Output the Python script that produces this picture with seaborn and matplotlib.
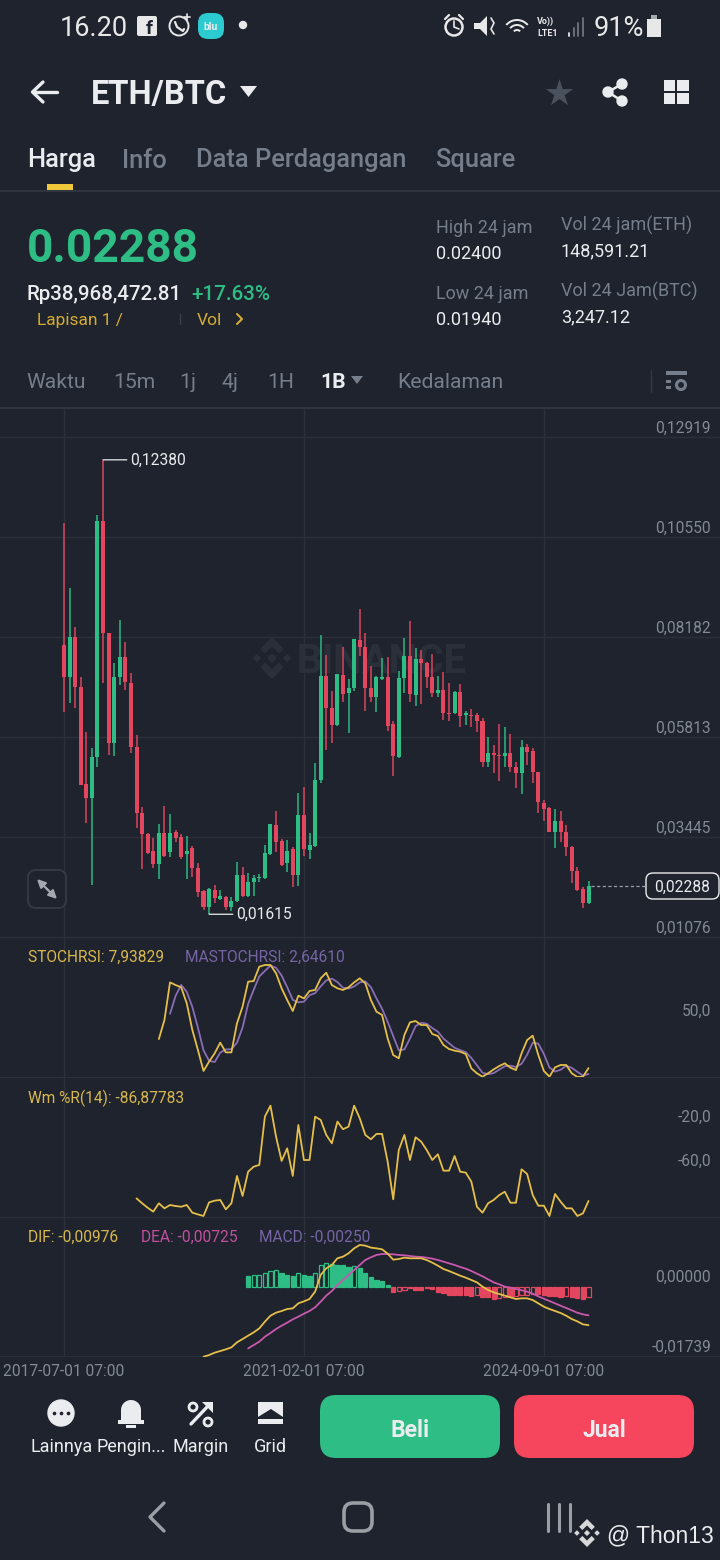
import numpy as np
import pandas as pd
import matplotlib.pyplot as plt
import seaborn as sns
from matplotlib.patches import FancyBboxPatch, Circle, Rectangle, Polygon, Wedge
from matplotlib.transforms import blended_transform_factory

# Monthly ETH/BTC candles, 2017-07 to 2025-05
opens = [.07994, .07236, .08183, .06999, .04701, .04369, .05340, .10932, .08278, .05672,
         .07236, .07709, .07094, .05577, .04014, .03516, .03113, .02805, .03540, .03090,
         .03564, .03445, .03042, .03184, .02711, .02166, .01787, .02190, .01977, .02024,
         .01787, .01929, .02545, .02048, .02379, .02474, .02474, .03042, .03729, .03350,
         .02829, .03161, .02545, .03966, .03137, .03232, .04796, .07260, .06502, .06098,
         .07284, .06857, .06975, .08112, .07946, .06975, .06762, .07188, .07236, .06122,
         .05340, .07212, .07733, .06809, .07662, .07567, .07236, .06857, .06928, .06383,
         .06383, .06880, .06335, .06335, .06335, .06193, .05222, .05435, .05388, .05364,
         .05435, .05103, .04961, .05577, .05482, .04985, .04251, .04132, .03564, .03824,
         .03564, .03208, .02640, .02214, .01882]
highs = [.10884, .09344, .08420, .07236, .05932, .05553, .11074, .12380, .08278, .07567,
         .08586, .08065, .07331, .05861, .04156, .03540, .03422, .03753, .04180, .03990,
         .03611, .03516, .03469, .03232, .02829, .02190, .02237, .02308, .02190, .02048,
         .02024, .02853, .02734, .02592, .02545, .02568, .03255, .03753, .04061, .03398,
         .03374, .03208, .04488, .04630, .03540, .05198, .08230, .07757, .06904, .07307,
         .07946, .07188, .08136, .08847, .08278, .07496, .07260, .07686, .07709, .06193,
         .07378, .08159, .08562, .07922, .07875, .07591, .07780, .07260, .07354, .07094,
         .06904, .07070, .06430, .06478, .06383, .06264, .05814, .05625, .06122, .06051,
         .05885, .05222, .05743, .05648, .05553, .04985, .04322, .04156, .04108, .04061,
         .03729, .03232, .02734, .02261, .02400]
lows = [.06407, .06620, .06502, .04677, .03777, .02308, .05103, .07094, .05388, .05364,
        .07046, .06928, .05435, .03658, .02687, .03042, .02711, .02450, .02971, .02971,
        .03327, .02924, .02450, .02497, .02024, .01716, .01615, .01882, .01953, .01716,
        .01692, .01905, .02024, .02024, .02048, .02379, .02450, .03019, .03090, .02758,
        .02616, .02261, .02284, .02995, .02924, .03208, .04725, .05506, .05672, .06075,
        .06644, .05908, .06904, .07733, .06430, .06644, .06407, .07165, .05956, .04890,
        .05317, .06857, .06644, .06549, .06596, .06975, .06762, .06762, .06217, .06193,
        .06359, .06051, .06098, .06051, .05932, .05103, .05103, .04961, .04772, .05103,
        .04985, .04606, .04464, .05151, .04725, .04014, .03824, .03564, .03184, .03327,
        .02995, .02355, .02166, .01763, .01858]
closes = [.07236, .08183, .06999, .04677, .04369, .05340, .10932, .08278, .05672, .07236,
          .07709, .07117, .05577, .04014, .03516, .03066, .02805, .03540, .02995, .03540,
          .03421, .02971, .03113, .02711, .02143, .01787, .02214, .02000, .02048, .01787,
          .01929, .02545, .02048, .02379, .02474, .02497, .03066, .03753, .03327, .02782,
          .03113, .02545, .03966, .03161, .03255, .04796, .07260, .06502, .06098, .07307,
          .06833, .06975, .08136, .07946, .06975, .06762, .07236, .07236, .06075, .05364,
          .07212, .07733, .06833, .07662, .07567, .07236, .06857, .06928, .06383, .06359,
          .06880, .06312, .06383, .06312, .06193, .05222, .05435, .05388, .05364, .05435,
          .05103, .04961, .05577, .05458, .04985, .04275, .04108, .03564, .03824, .03564,
          .03208, .02640, .02190, .01882, .02288]

# indicator series all end at the last candle
stoch_k = [33.9, 50.9, 84.5, 82.1, 80.1, 65.8, 42.0, 24.1, 5.4, 13.7, 21.1, 30.7, 22.0, 22.0, 47.9,
           62.8, 85.1, 85.7, 98.5, 100, 100, 92.6, 79.2, 68.7, 58.9, 72.6, 70.2, 76.8, 77.7, 88.1,
           93.1, 82.1, 79.2, 77.7, 80.1, 84.5, 88.1, 83.6, 68.7, 58.3, 55.4, 34.5, 19.6, 16.7, 37.5,
           48.8, 50.0, 46.4, 46.4, 38.4, 36.6, 28.6, 25.0, 23.5, 22.6, 20.5, 7.7, 3.3, 0.3, 3.3,
           6.8, 9.8, 12.2, 8.3, 6.2, 21.1, 33.0, 36.9, 19.6, 5.4, 0.3, 8.6, 10.7, 10.7, 3.3,
           0.0, 0.3, 7.94]
stoch_ma = [56.4, 72.5, 82.2, 76.0, 62.6, 44.0, 23.9, 14.4, 13.4, 21.8, 24.6, 24.9, 30.6, 44.2, 65.3,
            77.9, 89.8, 94.7, 99.5, 97.5, 90.6, 80.2, 68.9, 66.7, 67.3, 73.0, 74.9, 80.9, 86.3, 87.8,
            84.8, 79.7, 79.0, 80.8, 84.5, 85.4, 80.2, 70.2, 60.9, 49.4, 36.5, 23.9, 24.6, 34.3, 45.4,
            48.4, 47.6, 43.7, 40.5, 34.3, 30.2, 26.1, 24.0, 22.2, 17.0, 10.5, 3.8, 2.5, 3.5, 6.6,
            9.6, 10.1, 8.9, 11.8, 20.0, 30.6, 29.8, 20.6, 8.4, 4.8, 6.5, 10.0, 8.2, 4.6, 1.2, 2.65]
williams = [-84.6, -88.9, -92.8, -96.2, -88.9, -93.3, -90.4, -91.3, -91.9, -90.4, -97.1, -98.6, -100,
            -88.1, -86.6, -86.0, -94.2, -88.9, -65.0, -82.5, -61.3, -56.9, -55.4, -13.2, -3.6, -30.7,
            -51.9, -40.9, -65.0, -20.5, -51.1, -51.1, -13.2, -16.1, -29.2, -36.5, -17.5, -24.2, -21.9,
            -3.6, -14.6, -29.2, -33.0, -28.3, -28.3, -52.5, -85.4, -42.3, -29.2, -51.1, -31.2, -35.0,
            -42.3, -51.1, -46.1, -60.4, -60.4, -47.6, -61.3, -62.1, -70.0, -91.9, -97.1, -88.9, -86.0,
            -81.7, -78.8, -88.4, -88.4, -59.2, -63.3, -81.7, -91.0, -91.0, -100, -80.8, -87.5, -93.3,
            -93.3, -100, -97.7, -86.88]
dif = [-.01783, -.01740, -.01680, -.01638, -.01595, -.01544, -.01416, -.01331, -.01245, -.01160,
       -.01058, -.00887, -.00734, -.00657, -.00614, -.00563, -.00546, -.00418, -.00367, -.00307,
       -.00119, .00307, .00478, .00563, .00734, .00776, .00862, .00989, .01075, .01058,
       .01007, .00989, .00964, .00853, .00699, .00716, .00751, .00734, .00734, .00734,
       .00691, .00623, .00546, .00461, .00409, .00350, .00290, .00239, .00179, .00119,
       .00009, -.00077, -.00136, -.00179, -.00222, -.00264, -.00307, -.00290, -.00290, -.00333,
       -.00418, -.00503, -.00563, -.00614, -.00665, -.00734, -.00819, -.00880, -.00955, -.00976]
dea = [-.01570, -.01484, -.01399, -.01271, -.01177, -.01075, -.00990, -.00913, -.00827, -.00759,
       -.00682, -.00614, -.00520, -.00375, -.00222, -.00102, .00051, .00179, .00307, .00435,
       .00563, .00691, .00759, .00819, .00844, .00844, .00836, .00819, .00810, .00793,
       .00776, .00768, .00751, .00725, .00691, .00648, .00606, .00563, .00512, .00469,
       .00409, .00341, .00273, .00196, .00119, .00068, .00009, -.00017, -.00051, -.00085,
       -.00119, -.00171, -.00239, -.00299, -.00358, -.00418, -.00478, -.00537, -.00597, -.00657,
       -.00700, -.00725]
macd_hist = [.00273, .00299, .00316, .00358, .00418, .00435, .00358, .00316, .00273, .00358,
             .00299, .00273, .00358, .00572, .00614, .00589, .00572, .00554, .00503, .00529,
             .00486, .00358, .00247, .00188, .00145, .00043, -.00128, -.00111, -.00077, -.00034,
             -.00077, -.00077, -.00034, -.00051, -.00119, -.00162, -.00196, -.00196, -.00196, -.00213,
             -.00222, -.00213, -.00264, -.00264, -.00299, -.00281, -.00264, -.00264, -.00239, -.00213,
             -.00196, -.00179, -.00179, -.00213, -.00239, -.00239, -.00256, -.00239, -.00264, -.00281,
             -.00299, -.00250]

# axis labels
price_ticks = [0.12919, 0.10550, 0.08182, 0.05813, 0.03445, 0.01076]
price_labels = ['0,12919', '0,10550', '0,08182', '0,05813', '0,03445', '0,01076']
date_idx = [0, 43, 86]
date_labels = ['2017-07-01 07:00', '2021-02-01 07:00', '2024-09-01 07:00']

BG = '#1e232d'
GRID = '#2b3039'
GREEN = '#2ebd85'
RED = '#e2475f'
YELLOW = '#e6bf4a'
PURPLE = '#8a6db4'
PINK = '#c958ae'
GRAY = '#767e8b'
LABEL = '#838a95'
WHITE = '#eaecef'

sns.set_theme(style='dark', rc={'figure.facecolor': BG, 'axes.facecolor': 'none'})
plt.rcParams['font.family'] = ['Roboto', 'DejaVu Sans']

fig = plt.figure(figsize=(7.2, 15.6), dpi=100)

ui = fig.add_axes([0, 0, 1, 1], zorder=5)
ui.set_xlim(0, 720)
ui.set_ylim(1560, 0)
ui.axis('off')


def panel(top, bottom, ylim):
    ax = fig.add_axes([0, 1 - bottom / 1560, 1, (bottom - top) / 1560])
    # one candle is 5.58 px, first candle sits at px 64
    ax.set_xlim(-64 / 5.58, (720 - 64) / 5.58)
    ax.set_ylim(*ylim)
    ax.set_xticks([])
    ax.set_yticks([])
    ax.grid(False)
    for s in ax.spines.values():
        s.set_visible(False)
    for i in date_idx:
        ax.axvline(i, color=GRID, lw=1, zorder=0)
    return ax


def series_x(values):
    return np.arange(95 - len(values), 95)


def axis_label(ax, y, txt):
    ax.text(1 - 9 / 720, y, txt, transform=ax.get_yaxis_transform(), ha='right', va='bottom',
            fontsize=11.2, color=LABEL)


# ----------------------------------------------------------
# Candles
# ----------------------------------------------------------
price_per_px = 0.0002369
ax_main = panel(408, 937, (0.01076, 0.01076 + 529 * price_per_px))
df = pd.DataFrame({'open': opens, 'high': highs, 'low': lows, 'close': closes})
df['x'] = df.index
df['color'] = np.where(df['close'] >= df['open'], GREEN, RED)

for t, lab in zip(price_ticks, price_labels):
    ax_main.axhline(t, color=GRID, lw=1, zorder=0)
    axis_label(ax_main, t + 0.0002, lab)

ax_main.text(382, 0.0769, 'BINANCE', color='#2a2f39', fontsize=29, fontweight='bold', ha='center',
             va='center_baseline', transform=blended_transform_factory(ui.transData, ax_main.transData),
             zorder=1)

ax_main.vlines(df['x'], df['low'], df['high'], colors=df['color'], lw=1.25, alpha=0.85, zorder=3)
ax_main.bar(df['x'], (df['close'] - df['open']).abs().clip(lower=0.0003), bottom=df[['open', 'close']].min(axis=1),
            width=0.72, color=df['color'], edgecolor='none', lw=0, zorder=4)

# high / low / last price callouts
i_hi = int(np.argmax(highs))
i_lo = int(np.argmin(lows))
ax_main.annotate('0,12380', xy=(i_hi, highs[i_hi]), xytext=(27, 0), textcoords='offset pixels', va='center',
                 color=WHITE, fontsize=11.2, zorder=6,
                 arrowprops=dict(arrowstyle='-', color=WHITE, lw=0.9, shrinkA=0, shrinkB=0))
ax_main.annotate('0,01615', xy=(i_lo, lows[i_lo]), xytext=(27, 0), textcoords='offset pixels', va='center',
                 color=WHITE, fontsize=11.2, zorder=6,
                 arrowprops=dict(arrowstyle='-', color=WHITE, lw=0.9, shrinkA=0, shrinkB=0))
ax_main.plot([94.5, 104.5], [closes[-1]] * 2, color='#9aa0a8', lw=0.9, ls=(0, (2.5, 2)), zorder=3)

# ----------------------------------------------------------
# Stoch RSI
# ----------------------------------------------------------
ax_stoch = panel(937, 1077, (0, 125))
axis_label(ax_stoch, 52, '50,0')
ax_stoch.axhline(125, color=GRID, lw=1)
sns.lineplot(x=series_x(stoch_ma), y=stoch_ma, ax=ax_stoch, color=PURPLE, lw=1.3, estimator=None)
sns.lineplot(x=series_x(stoch_k), y=stoch_k, ax=ax_stoch, color=YELLOW, lw=1.3, estimator=None)
ax_stoch.set_ylim(0, 125)

# ----------------------------------------------------------
# Williams %R
# ----------------------------------------------------------
wr_top = 24.5 / 1.144
ax_wr = panel(1077, 1217, (-(1217 - 1101.6) / 1.144, wr_top))
axis_label(ax_wr, -20, '-20,0')
axis_label(ax_wr, -59, '-60,0')
ax_wr.axhline(wr_top, color=GRID, lw=1.5)
sns.lineplot(x=series_x(williams), y=williams, ax=ax_wr, color=YELLOW, lw=1.3, estimator=None)
ax_wr.set_ylim(-(1217 - 1101.6) / 1.144, wr_top)

# ----------------------------------------------------------
# MACD
# ----------------------------------------------------------
macd_px = 1 / 3910
macd_lim = ((1287 - 1357) * macd_px, (1287 - 1217) * macd_px)
ax_macd = panel(1217, 1357, macd_lim)
axis_label(ax_macd, 0.0005, '0,00000')
axis_label(ax_macd, -0.01739, '-0,01739')
ax_macd.axhline(macd_lim[1], color=GRID, lw=1.5)
ax_macd.axhline(macd_lim[0], color=GRID, lw=1.5)

h_x = series_x(macd_hist)
for j, (x, v) in enumerate(zip(h_x, macd_hist)):
    col = GREEN if v >= 0 else RED
    # rising bars are hollow, falling bars filled
    hollow = j > 0 and v > macd_hist[j - 1]
    ax_macd.bar(x, v, width=0.76, facecolor='none' if hollow else col, edgecolor=col, lw=0.9, zorder=2)

sns.lineplot(x=series_x(dea), y=dea, ax=ax_macd, color=PINK, lw=1.3, estimator=None, zorder=3)
sns.lineplot(x=series_x(dif), y=dif, ax=ax_macd, color=YELLOW, lw=1.3, estimator=None, zorder=4)
ax_macd.set_ylim(*macd_lim)


# ----------------------------------------------------------
# App screen around the chart
# ----------------------------------------------------------
def txt(x, y, s, size=13, color=WHITE, weight='normal', ha='left', **kw):
    ui.text(x, y, s, fontsize=size, color=color, fontweight=weight, ha=ha, va='center_baseline', **kw)


def rbox(x0, y0, x1, y1, r, **kw):
    ui.add_patch(FancyBboxPatch((x0 + r, y0 + r), x1 - x0 - 2 * r, y1 - y0 - 2 * r,
                                boxstyle=f'round,pad={r},rounding_size={r}', **kw))


def diamond(cx, cy, size, color):
    # Binance mark: two chevrons and three small squares turned 45 degrees
    for dx, dy, r in [(0, 0, .22), (-.72, 0, .2), (.72, 0, .2)]:
        px, py = cx + dx * size, cy + dy * size
        rr = r * size
        ui.add_patch(Polygon([(px - rr, py), (px, py - rr), (px + rr, py), (px, py + rr)], color=color, lw=0))
    chev = np.array([(0, -1), (.56, -.44), (.33, -.21), (0, -.54), (-.33, -.21), (-.56, -.44)])
    for sign in [1, -1]:
        pts = np.column_stack([cx + chev[:, 0] * size, cy + sign * chev[:, 1] * size])
        ui.add_patch(Polygon(pts, color=color, lw=0))


# status bar
txt(60, 26, '16.20', 19.5, '#e8e8e8')
rbox(137, 16, 157, 36, 2, fc='#e8e8e8', ec='none')
txt(149, 27, 'f', 14, BG, 'bold', ha='center')
ui.add_patch(Circle((179, 26), 9.5, fc='none', ec='#e8e8e8', lw=1.4))
ui.plot([184, 190], [17, 17], color='#e8e8e8', lw=1.2)
ui.plot([187, 187], [14, 20], color='#e8e8e8', lw=1.2)
ui.plot([175, 177, 183, 184], [22, 27, 31, 29], color='#e8e8e8', lw=1.6)
rbox(198, 13, 224, 39, 10, fc='#2ccbd0', ec='none')
txt(211, 26, 'blu', 7.5, WHITE, 'bold', ha='center')
ui.add_patch(Circle((243, 25), 3.5, color='#e8e8e8'))
ui.add_patch(Circle((454, 27), 8.5, fc='none', ec='#e8e8e8', lw=1.8))
ui.plot([454, 454, 459], [21, 27, 29], color='#e8e8e8', lw=1.2)
ui.plot([445, 449], [19, 15], color='#e8e8e8', lw=1.6)
ui.plot([463, 459], [19, 15], color='#e8e8e8', lw=1.6)
ui.add_patch(Polygon([(474, 23), (480, 23), (487, 16), (487, 36), (480, 29), (474, 29)], color='#e8e8e8', lw=0))
ui.plot([491, 494, 491, 494], [18, 23, 29, 34], color='#e8e8e8', lw=1.2)
for r in [15, 10, 5]:
    ui.add_patch(Wedge((517, 34), r, 220, 320, width=2, color='#e8e8e8', lw=0))
txt(546, 20, 'Vo))', 6.5, '#e8e8e8', 'bold', ha='center')
txt(548, 32, 'LTE1', 6.5, '#e8e8e8', 'bold', ha='center')
for k, h in enumerate([3, 8, 13, 18]):
    ui.plot([569 + k * 4.5] * 2, [36, 36 - h], color='#e8e8e8' if k == 0 else '#6f7680', lw=1.3)
txt(594, 26, '91%', 19.5, '#e8e8e8')
ui.add_patch(Rectangle((647, 19), 14, 18, color='#e8e8e8', lw=0))
ui.add_patch(Rectangle((651, 15), 6, 4, color='#a5a8ad', lw=0))

# title row
ui.plot([33, 57], [92, 92], color=WHITE, lw=2.4)
ui.plot([43, 32.5, 43], [82, 92, 102], color=WHITE, lw=2.4)
txt(91, 92, 'ETH/BTC', 23.5, WHITE, 'bold')
ui.add_patch(Polygon([(240, 86), (257, 86), (248.5, 97)], color=WHITE, lw=0))
ui.scatter([559], [93], marker='*', s=430, color='#4a505c', lw=0)
ui.plot([622, 608, 622], [84, 92, 101], color=WHITE, lw=1.8)
for cx, cy in [(622, 84), (608, 92), (622, 101)]:
    ui.add_patch(Circle((cx, cy), 5, color=WHITE))
for x0, y0, w, h in [(664, 80, 11, 11), (677, 80, 12, 11), (664, 93, 11, 11), (677, 93, 12, 11)]:
    ui.add_patch(Rectangle((x0, y0), w, h, color=WHITE, lw=0))

# tabs
txt(27, 158, 'Harga', 18.4, WHITE, 'medium')
txt(122, 158, 'Info', 18.4, GRAY, 'medium')
txt(196, 158, 'Data Perdagangan', 18.4, GRAY, 'medium')
txt(435, 158, 'Square', 18.4, GRAY, 'medium')
ui.add_patch(Rectangle((47, 184), 26, 6, color='#f0c93a', lw=0))
ui.plot([0, 720], [190.5, 190.5], color='#333944', lw=1.2)

# price block
txt(27, 245, '0.02288', 33.2, GREEN, 'bold')
txt(27, 292, 'Rp38,968,472.81', 14.8, WHITE, 'medium')
txt(191, 292, '+17.63%', 14.8, GREEN, 'medium')
txt(37, 319, 'Lapisan 1 /', 12.5, '#d5ac33')
ui.plot([180, 180], [314, 324], color='#3a404a', lw=1)
txt(197, 319, 'Vol', 12.5, '#d5ac33')
ui.plot([237, 242, 237], [314, 319, 324], color='#d5ac33', lw=1.5)

txt(436, 226, 'High 24 jam', 13, GRAY)
txt(436, 252, '0.02400', 13, WHITE)
txt(436, 292, 'Low 24 jam', 13, GRAY)
txt(436, 318, '0.01940', 13, WHITE)
txt(561, 223, 'Vol 24 jam(ETH)', 13, GRAY)
txt(561, 249, '148,591.21', 13, WHITE)
txt(561, 289, 'Vol 24 Jam(BTC)', 13, GRAY)
txt(561, 315, '3,247.12', 13, WHITE)

# interval row
for x, s in [(26, 'Waktu'), (113, '15m'), (179, '1j'), (222, '4j'), (267, '1H'), (397, 'Kedalaman')]:
    txt(x, 381, s, 15.2, GRAY)
txt(320, 381, '1B', 15.2, WHITE, 'bold')
ui.add_patch(Polygon([(351, 376), (363, 376), (357, 384)], color=GRAY, lw=0))
ui.plot([651, 651], [370, 392], color='#333944', lw=1)
ui.add_patch(Rectangle((666, 371), 21, 3.5, color=GRAY, lw=0))
ui.add_patch(Rectangle((666, 380), 5, 3, color=GRAY, lw=0))
ui.add_patch(Rectangle((666, 386), 5, 3, color=GRAY, lw=0))
ui.add_patch(Circle((681, 385), 4.5, fc='none', ec=GRAY, lw=2.2))
ui.plot([0, 720], [408, 408], color='#333944', lw=1.2)

# fullscreen button and watermark logo
rbox(28, 870, 66, 908, 8, fc=BG, ec='#343a45', lw=1.4)
ui.annotate('', xy=(37, 879), xytext=(47, 889), arrowprops=dict(arrowstyle='-|>', color='#a4a9b0', lw=1.6, shrinkA=0, shrinkB=0))
ui.annotate('', xy=(57, 899), xytext=(47, 889), arrowprops=dict(arrowstyle='-|>', color='#a4a9b0', lw=1.6, shrinkA=0, shrinkB=0))
diamond(272, 658, 21, '#2a2f39')

# last price tag
rbox(646, 873, 719, 899, 7, fc=BG, ec=WHITE, lw=1)
txt(682, 886, '0,02288', 11.2, WHITE, ha='center')

# indicator legends
txt(28, 956, 'STOCHRSI: 7,93829', 11.2, '#d8b84e')
txt(185, 956, 'MASTOCHRSI: 2,64610', 11.2, '#7665a5')
txt(28, 1096, 'Wm %R(14): -86,87783', 11.2, '#d8b84e')
txt(28, 1236, 'DIF: -0,00976', 11.2, '#d8b84e')
txt(141, 1236, 'DEA: -0,00725', 11.2, '#c24fa0')
txt(259, 1236, 'MACD: -0,00250', 11.2, '#7665a5')

# date labels under the last panel
for i, lab in zip(date_idx, date_labels):
    txt(64 + 5.58 * i, 1370, lab, 11.2, LABEL, ha='center')

# toolbar
ui.add_patch(Circle((61, 1413), 13, color=WHITE))
ui.scatter([54, 61, 68], [1413] * 3, s=7, color=BG, lw=0)
ui.add_patch(Wedge((131, 1410), 10, 180, 360, color=WHITE, lw=0))
ui.add_patch(Rectangle((121, 1410), 20, 11, color=WHITE, lw=0))
ui.add_patch(Rectangle((118, 1420), 26, 4, color=WHITE, lw=0))
ui.add_patch(Rectangle((126, 1425), 10, 2.5, color=WHITE, lw=0))
ui.plot([191, 208], [1424, 1406], color=WHITE, lw=2.4)
ui.add_patch(Polygon([(202, 1402), (213, 1402), (213, 1413)], color=WHITE, lw=0))
ui.add_patch(Circle((193, 1407), 4, fc='none', ec=WHITE, lw=2))
ui.add_patch(Circle((208, 1422), 4, fc='none', ec=WHITE, lw=2))
ui.add_patch(Polygon([(258, 1402), (283, 1402), (283, 1417), (271, 1409), (258, 1417)], color=WHITE, lw=0))
ui.add_patch(Rectangle((258, 1419), 25, 5, color=WHITE, lw=0))
txt(30, 1445, 'Lainnya', 13)
txt(97, 1445, 'Pengin...', 13)
txt(173, 1445, 'Margin', 13)
txt(254, 1445, 'Grid', 13)
rbox(320, 1395, 500, 1458, 16, fc='#2ebd85', ec='none')
rbox(514, 1395, 694, 1458, 16, fc='#f6465d', ec='none')
txt(410, 1428, 'Beli', 16.5, WHITE, 'bold', ha='center')
txt(604, 1428, 'Jual', 16.5, WHITE, 'bold', ha='center')

# navigation bar and watermark
ui.plot([164, 150, 164], [1503, 1517, 1531], color='#9a9fa6', lw=2.4)
rbox(344, 1503, 372, 1531, 9, fc='none', ec='#9a9fa6', lw=2.6)
for x in [548, 559, 570]:
    ui.plot([x, x], [1504, 1531], color='#9a9fa6', lw=2.2)
diamond(587, 1533, 14, '#d8d8d8')
txt(607, 1533, '@ Thon13', 16.5, WHITE, family='Liberation Sans')

fig.savefig('out.png', dpi=100, facecolor=BG)
